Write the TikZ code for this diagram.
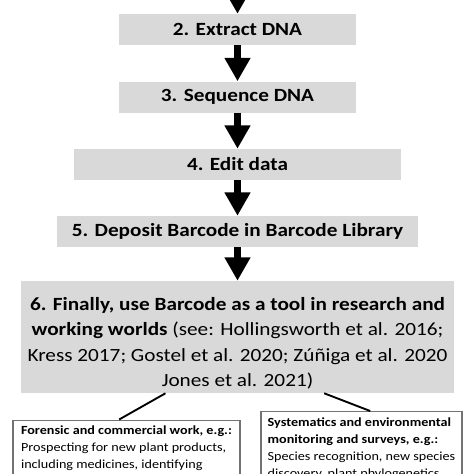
\documentclass[tikz,border=0pt]{standalone}
\usepackage{fontspec}
\setmainfont{Carlito}[FakeStretch=1.14]
\usepackage{tikz}
\usetikzlibrary{arrows.meta, positioning}

\begin{document}
\begin{tikzpicture}[
        x=0.03cm, y=-0.03cm,
        stepbox/.style={rectangle, fill=black!15, minimum height=0.93cm, align=center,
            font=\fontsize{15.9}{21.6}\selectfont\bfseries},
        usebox/.style={rectangle, fill=black!15, minimum width=12.99cm, minimum height=3.24cm,
            align=center, font=\fontsize{15.9}{21.6}\selectfont},
        areabox/.style={rectangle, draw=black!55, line width=0.9pt, fill=white, anchor=north,
            align=left, inner ysep=0.18cm, text depth=2cm,
            font=\fontsize{10.6}{14.6}\selectfont},
        flow/.style={-{Triangle[width=21pt, length=20pt]}, line width=6pt},
        link/.style={line width=1.6pt}
    ]
        % frame of the figure (cut off at the bottom)
        \useasboundingbox (0,0) rectangle (474,474);
        \clip (0,0) rectangle (474,474);

        % Steps - all centred at x=237.5
        \coordinate (start) at (237.5, -40);
        \node[stepbox, minimum width=7.11cm] (extract) at (237.5, 29.5) {2. Extract DNA};
        \node[stepbox, minimum width=7.11cm] (sequence) at (237.5, 97) {3. Sequence DNA};
        \node[stepbox, minimum width=9.78cm] (edit) at (237.5, 164.5) {4. Edit data};
        \node[stepbox, minimum width=10.8cm] (deposit) at (237.5, 231.5) {5. Deposit Barcode in Barcode Library};

        % Final step (strut pushes the text a bit lower in the box)
        \node[usebox] (use) at (237.5, 337) {\rule{0pt}{22pt}\textbf{6. Finally, use Barcode as a tool in research and}\\
            \textbf{working worlds} (see: Hollingsworth et al. 2016;\\
            Kress 2017; Gostel et al. 2020; Zúñiga et al. 2020\\
            Jones et al. 2021)};

        % Fields of use
        \node[areabox, minimum width=6.81cm] (forensic) at (126.5, 419.5) {\textbf{Forensic and commercial work, e.g.:}\\
            Prospecting for new plant products,\\
            including medicines, identifying};
        \node[areabox, minimum width=6.03cm] (systematics) at (361.5, 411) {\textbf{Systematics and environmental}\\
            \textbf{monitoring and surveys, e.g.:}\\
            Species recognition, new species\\
            discovery, plant phylogenetics};

        % Arrows between the steps
        \draw[flow] (start) -- (extract);
        \draw[flow] (extract) -- (sequence);
        \draw[flow] (sequence) -- (edit);
        \draw[flow] (edit) -- (deposit);
        \draw[flow] (deposit) -- (use);

        % Lines to the fields of use
        \draw[link] (use.218) -- ([xshift=-0.22cm]forensic.north);
        \draw[link] (use.-33) -- ([xshift=0.26cm]systematics.north);
    \end{tikzpicture}
\end{document}
